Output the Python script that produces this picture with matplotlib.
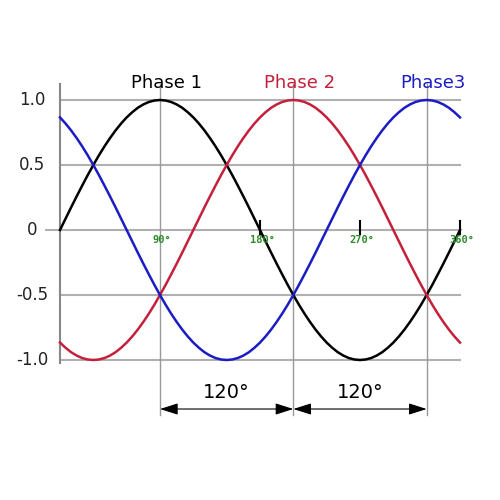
import matplotlib.pyplot as plt

# ── DATA ─────────────────────────────────────────────────────────────────────
sudut = list(range(0, 365, 5))   # 0°..360°, langkah 5°

fase1 = [0.000, 0.087, 0.174, 0.259, 0.342, 0.423, 0.500, 0.574, 0.643, 0.707,
         0.766, 0.819, 0.866, 0.906, 0.940, 0.966, 0.985, 0.996, 1.000,
         0.996, 0.985, 0.966, 0.940, 0.906, 0.866, 0.819, 0.766, 0.707, 0.643,
         0.574, 0.500, 0.423, 0.342, 0.259, 0.174, 0.087, 0.000,
         -0.087, -0.174, -0.259, -0.342, -0.423, -0.500, -0.574, -0.643, -0.707,
         -0.766, -0.819, -0.866, -0.906, -0.940, -0.966, -0.985, -0.996, -1.000,
         -0.996, -0.985, -0.966, -0.940, -0.906, -0.866, -0.819, -0.766, -0.707,
         -0.643, -0.574, -0.500, -0.423, -0.342, -0.259, -0.174, -0.087, 0.000]

fase2 = [-0.866, -0.906, -0.940, -0.966, -0.985, -0.996, -1.000, -0.996, -0.985,
         -0.966, -0.940, -0.906, -0.866, -0.819, -0.766, -0.707, -0.643, -0.574,
         -0.500, -0.423, -0.342, -0.259, -0.174, -0.087, 0.000,
         0.087, 0.174, 0.259, 0.342, 0.423, 0.500, 0.574, 0.643, 0.707, 0.766,
         0.819, 0.866, 0.906, 0.940, 0.966, 0.985, 0.996, 1.000,
         0.996, 0.985, 0.966, 0.940, 0.906, 0.866, 0.819, 0.766, 0.707, 0.643,
         0.574, 0.500, 0.423, 0.342, 0.259, 0.174, 0.087, 0.000,
         -0.087, -0.174, -0.259, -0.342, -0.423, -0.500, -0.574, -0.643, -0.707,
         -0.766, -0.819, -0.866]

fase3 = [0.866, 0.819, 0.766, 0.707, 0.643, 0.574, 0.500, 0.423, 0.342, 0.259,
         0.174, 0.087, 0.000,
         -0.087, -0.174, -0.259, -0.342, -0.423, -0.500, -0.574, -0.643, -0.707,
         -0.766, -0.819, -0.866, -0.906, -0.940, -0.966, -0.985, -0.996, -1.000,
         -0.996, -0.985, -0.966, -0.940, -0.906, -0.866, -0.819, -0.766, -0.707,
         -0.643, -0.574, -0.500, -0.423, -0.342, -0.259, -0.174, -0.087, 0.000,
         0.087, 0.174, 0.259, 0.342, 0.423, 0.500, 0.574, 0.643, 0.707, 0.766,
         0.819, 0.866, 0.906, 0.940, 0.966, 0.985, 0.996, 1.000,
         0.996, 0.985, 0.966, 0.940, 0.906, 0.866]

nama_fase = ['Phase 1', 'Phase 2', 'Phase3']
puncak = [90, 210, 330]              # sudut puncak tiap fase
warna = ['black', '#c4203c', '#1c1cc4']

y_ticks = [1.0, 0.5, 0, -0.5, -1.0]
y_labels = ['1.0', '0.5', '0', '-0.5', '-1.0']

deg_ticks = [90, 180, 270, 360]
deg_labels = ['90°', '180°', '270°', '360°']

beda_fase = ['120°', '120°']

print(len(sudut), len(fase1), len(fase2), len(fase3))

# ── PLOT ─────────────────────────────────────────────────────────────────────
fig = plt.figure(figsize=(5, 5), dpi=100)
ax = fig.add_axes([0.12, 0.28, 0.8, 0.52])
ax.set_xlim(0, 360)
ax.set_ylim(-1, 1)
ax.axis('off')

grid_c = '#b0b0b0'

# garis grid horizontal
for yv in y_ticks:
    x0 = -13 if yv == 0 else 0
    ax.plot([x0, 360], [yv, yv], color=grid_c, lw=1.5, clip_on=False, zorder=1)

# sumbu kiri
ax.plot([0, 0], [-1.02, 1.12], color='#888888', lw=1.5, clip_on=False, zorder=1)

# garis vertikal di puncak
for p in puncak:
    ax.plot([p, p], [1.12, -1.42], color='#999999', lw=1.0, clip_on=False, zorder=1)

# tick kecil di garis nol
for d in deg_ticks[1:]:
    ax.plot([d, d], [0.07, -0.03], color='black', lw=1.5, clip_on=False, zorder=2)

# kurva
for data, c in zip([fase1, fase2, fase3], warna):
    ax.plot(sudut, data, color=c, lw=1.8, clip_on=False, zorder=3,
            solid_joinstyle='round')

# judul fase
for nama, p, c in zip(nama_fase, puncak, warna):
    ax.text(p + 6, 1.13, nama, color=c, fontsize=13, ha='center', va='center')

# label sumbu y
for yv, lab in zip(y_ticks, y_labels):
    ax.text(-25, yv, lab, fontsize=12, ha='center', va='center', color='#222222')

# label derajat hijau
for d, lab in zip(deg_ticks, deg_labels):
    ax.text(d + 2, -0.08, lab, fontsize=7.5, ha='center', va='center',
            color='#2e8b2e', family='DejaVu Sans Mono', fontweight='bold',
            zorder=4)

# panah beda fase
for i, lab in enumerate(beda_fase):
    a, b = puncak[i], puncak[i + 1]
    ax.annotate('', xy=(a, -1.377), xytext=(b, -1.377),
                arrowprops=dict(arrowstyle='<|-|>,head_length=1.1,head_width=0.35',
                                color='black', lw=0.8, shrinkA=0, shrinkB=0),
                annotation_clip=False)
    ax.text((a + b) / 2, -1.25, lab, fontsize=14, ha='center', va='center')

plt.savefig('out.png', dpi=100)
